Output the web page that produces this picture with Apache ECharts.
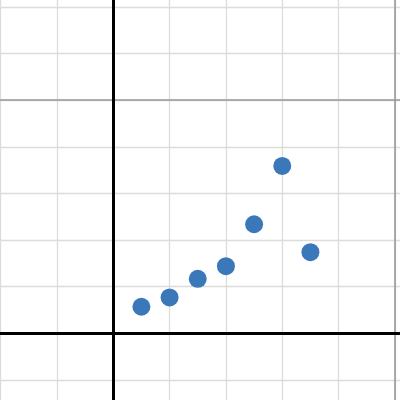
<!DOCTYPE html>
<html>
<head>
<meta charset="utf-8">
<script src="https://cdn.jsdelivr.net/npm/echarts@6/dist/echarts.min.js"></script>
<style>
  html, body { margin: 0; padding: 0; background: #fff; }
  #chart { width: 400px; height: 400px; }
</style>
</head>
<body>
<div id="chart"></div>
<script>
// points
var xValues = [0.5, 1, 1.5, 2, 2.5, 3, 3.5];
var yValues = [0.57, 0.77, 1.17, 1.44, 2.34, 3.59, 1.74];
// darker grid lines and the two axes
var majorLines = [5];
var axisLines = [0];

var points = xValues.map(function (x, i) { return [x, yValues[i]]; });

var lines = [];
majorLines.forEach(function (v) {
    lines.push({ xAxis: v, lineStyle: { color: '#999999', width: 1.6, type: 'solid' } });
    lines.push({ yAxis: v, lineStyle: { color: '#999999', width: 1.6, type: 'solid' } });
});
axisLines.forEach(function (v) {
    lines.push({ xAxis: v, lineStyle: { color: '#000000', width: 3, type: 'solid' } });
    lines.push({ yAxis: v, lineStyle: { color: '#000000', width: 3, type: 'solid' } });
});

var chart = echarts.init(document.getElementById('chart'));
chart.setOption({
    animation: false,
    grid: { left: 0, right: 0, top: 0, bottom: 0 },
    // view window: unit grid, ticks land on whole numbers
    xAxis: {
        type: 'value',
        min: -2.01,
        max: 5.09,
        minInterval: 1,
        maxInterval: 1,
        axisLine: { show: false },
        axisTick: { show: false },
        axisLabel: { show: false },
        splitLine: { show: true, showMinLine: false, showMaxLine: false,
            lineStyle: { color: '#dcdcdc', width: 1.3 } }
    },
    yAxis: {
        type: 'value',
        min: -1.43,
        max: 7.15,
        minInterval: 1,
        maxInterval: 1,
        axisLine: { show: false },
        axisTick: { show: false },
        axisLabel: { show: false },
        splitLine: { show: true, showMinLine: false, showMaxLine: false,
            lineStyle: { color: '#dcdcdc', width: 1.3 } }
    },
    series: [{
        type: 'scatter',
        data: points,
        symbolSize: 18,
        itemStyle: { color: '#3a78ba', opacity: 1 },
        markLine: {
            silent: true,
            symbol: 'none',
            label: { show: false },
            data: lines
        }
    }]
});
</script>
</body>
</html>
